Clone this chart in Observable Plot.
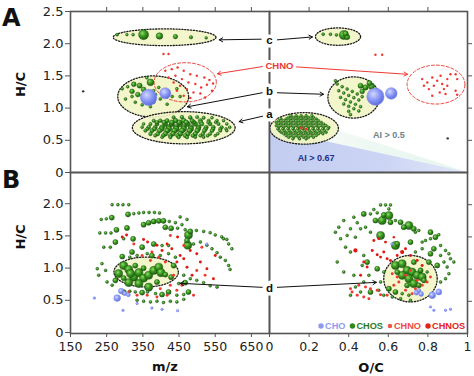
<!DOCTYPE html>
<html><head><meta charset="utf-8">
<script src="https://cdn.jsdelivr.net/npm/d3@7"></script>
<script src="https://cdn.jsdelivr.net/npm/@observablehq/plot@0.6"></script>
<style>
html,body{margin:0;padding:0;background:#fff;}
#wrap{position:relative;width:474px;height:376px;overflow:hidden;background:#fff;}
#wrap svg.panel{position:absolute;overflow:visible;}
</style></head><body>
<svg width="0" height="0" style="position:absolute;left:0;top:0"><defs>
<radialGradient id="gradCHOS" cx="0.38" cy="0.35" r="0.68"><stop offset="0" stop-color="#8fdc62"/><stop offset="0.45" stop-color="#3a9a22"/><stop offset="1" stop-color="#1d5c10"/></radialGradient>
<radialGradient id="gradCHO" cx="0.38" cy="0.35" r="0.68"><stop offset="0" stop-color="#d2d8ff"/><stop offset="0.5" stop-color="#8e9af6"/><stop offset="1" stop-color="#5a69dc"/></radialGradient>
<linearGradient id="gradAI" x1="0" y1="0" x2="1" y2="0"><stop offset="0" stop-color="#c3cdf1"/><stop offset="0.6" stop-color="#ccd5f4"/><stop offset="1" stop-color="#e2e8f9"/></linearGradient>
<linearGradient id="gradMint" x1="0" y1="0" x2="1" y2="0"><stop offset="0" stop-color="#ffffff"/><stop offset="0.5" stop-color="#eef8f3"/><stop offset="1" stop-color="#e6f6ee"/></linearGradient>
</defs></svg>
<div id="wrap"></div>
<script>
// ---------------- DATA ----------------
const categories = ["CHO", "CHOS", "CHNO", "CHNOS"];
const yTicksA = [0, 0.5, 1, 1.5, 2, 2.5];
const yTicksB = [0, 0.5, 1, 1.5, 2];
const mzTicks = [150, 250, 350, 450, 550, 650];
const ocTicks = [0, 0.2, 0.4, 0.6, 0.8, 1];
const mzDomain = [150, 700];
const ocDomain = [0, 1];
const hcDomain = [0, 2.5];

// points: [x, H/C, relative intensity]
const aLeftCHOS = [
  [279,2.14,3],[306,2.14,2.5],[323,2.14,3],[352,2.14,34],[396,2.12,15],[440,2.11,7],[483,2.10,4],[525,2.09,2.5],
  [293,1.30,3],[308,1.33,3],[320,1.26,8],[325,1.37,8],[341,1.35,9],[352,1.29,8],[371,1.40,16],[380,1.27,3],[394,1.32,3],[403,1.24,3],
  [320,1.18,3],[336,1.21,8],[398,1.14,3],[421,1.24,3],[431,1.18,3],[444,1.30,3],[361,1.47,3],[329,1.09,3],[348,1.05,3],[371,1.02,3],
  [302,1.14,3],[417,1.06,3],[380,1.09,3],[453,1.18,3],[351,1.19,8],[385,1.21,3],
  [435,0.857,4],[458,0.86,5],[481,0.855,5],[500,0.86,4],[518,0.85,4],[541,0.85,3],
  [380,0.805,4],[398,0.805,5],[417,0.805,6],[440,0.805,8],[463,0.805,8],[486,0.805,6],[509,0.805,6],[532,0.805,4],[555,0.805,3],[573,0.805,3],
  [389,0.779,5],[409,0.779,7],[430,0.779,8],[450,0.779,9],[470,0.779,8],[490,0.779,7],[510,0.779,6],[531,0.779,4],[551,0.779,3],
  [352,0.753,3],[371,0.753,4],[389,0.753,6],[412,0.753,8],[430,0.753,9],[453,0.753,10],[474,0.753,9],[495,0.753,8],[513,0.753,6],[536,0.753,5],[559,0.753,4],[582,0.753,3],
  [348,0.702,3],[366,0.702,5],[384,0.702,6],[403,0.702,9],[421,0.702,10],[442,0.702,11],[463,0.702,10],[483,0.702,9],[504,0.702,8],[525,0.702,6],[545,0.702,5],[568,0.702,4],[590,0.702,3],
  [362,0.676,4],[382,0.676,6],[402,0.676,8],[422,0.676,10],[442,0.676,11],[463,0.676,10],[483,0.676,9],[503,0.676,8],[523,0.676,6],[544,0.676,5],[564,0.676,4],[580,0.676,3],
  [357,0.65,4],[375,0.65,6],[396,0.65,8],[417,0.65,9],[437,0.65,10],[458,0.65,10],[479,0.65,9],[500,0.65,8],[520,0.65,6],[541,0.65,5],[564,0.65,4],[582,0.65,3],
  [371,0.60,5],[391,0.60,6],[412,0.60,8],[433,0.60,8],[453,0.60,9],[474,0.60,8],[495,0.60,7],[516,0.60,5],[536,0.60,4],[557,0.60,3],
  [384,0.573,4],[406,0.573,5],[426,0.573,6],[446,0.573,6],[467,0.573,6],[488,0.573,5],[509,0.573,4],[529,0.573,4],[550,0.573,3],
  [403,0.547,3],[426,0.547,4],[449,0.547,4],[472,0.547,4],[495,0.547,3],[518,0.547,3]
];
const aLeftCHO = [[366,1.166,90],[412,1.23,42]];
const aLeftCHNO = [
  [407,1.84,2],[421,1.84,2],
  [412,1.579,2],[430,1.605,2],[446,1.631,2],[463,1.579,2],[481,1.527,2],[499,1.502,2],[520,1.476,2],[534,1.435,2],
  [421,1.476,2],[440,1.502,2],[458,1.45,2],[476,1.398,2],[495,1.373,2],[511,1.321,2],[527,1.362,2],[544,1.383,2],
  [453,1.347,2],[472,1.295,2],[490,1.244,2],[509,1.228,2],[435,1.398,2],[444,1.27,2],[463,1.192,2],[481,1.156,2],[522,1.166,2],[541,1.27,2]
];
const aLeftOther = [[185,1.26,2]];

const aRightCHOS = [
  [0.271,2.147,3],[0.308,2.147,3],[0.338,2.136,3],[0.375,2.136,28],[0.392,2.105,10],[0.384,2.157,10],
  [0.342,1.373,3],[0.367,1.331,3],[0.392,1.295,3],[0.418,1.259,3],[0.443,1.218,3],[0.468,1.177,3],
  [0.35,1.27,3],[0.375,1.233,3],[0.4,1.197,3],[0.426,1.161,3],[0.451,1.125,3],
  [0.359,1.166,3],[0.384,1.13,3],[0.409,1.094,3],[0.434,1.058,3],[0.46,1.022,3],
  [0.375,1.063,3],[0.4,1.027,3],[0.426,0.991,3],[0.451,0.955,3],
  [0.46,1.347,9],[0.485,1.321,10],[0.505,1.388,9],[0.468,1.259,8],[0.515,1.337,12],[0.4,0.95,3],[0.409,0.898,3],[0.333,1.424,3],
  [0.109,0.882,2.5],[0.135,0.882,2.5],[0.16,0.882,2.5],[0.185,0.882,2.5],[0.214,0.882,2.5],
  [0.097,0.856,2.5],[0.122,0.856,2.5],[0.147,0.856,2.5],[0.172,0.856,2.5],[0.197,0.856,2.5],[0.222,0.856,2.5],
  [0.059,0.831,2.5],[0.084,0.831,2.5],[0.109,0.831,2.5],[0.135,0.831,2.5],[0.16,0.831,2.5],[0.185,0.831,2.5],[0.21,0.831,2.5],[0.236,0.831,2.5],
  [0.047,0.805,2.5],[0.072,0.805,2.5],[0.097,0.805,2.5],[0.122,0.805,2.5],[0.147,0.805,2.5],[0.172,0.805,2.5],[0.197,0.805,2.5],[0.222,0.805,2.5],[0.247,0.805,2.5],
  [0.034,0.779,2.5],[0.059,0.779,2.5],[0.084,0.779,2.5],[0.109,0.779,2.5],[0.135,0.779,2.5],[0.16,0.779,2.5],[0.185,0.779,2.5],[0.21,0.779,2.5],[0.236,0.779,2.5],[0.261,0.779,2.5],
  [0.047,0.753,2.5],[0.072,0.753,2.5],[0.097,0.753,2.5],[0.122,0.753,2.5],[0.147,0.753,2.5],[0.172,0.753,2.5],[0.197,0.753,2.5],[0.222,0.753,2.5],[0.247,0.753,2.5],[0.274,0.753,2.5],
  [0.034,0.727,2.5],[0.059,0.727,2.5],[0.084,0.727,2.5],[0.109,0.727,2.5],[0.135,0.727,2.5],[0.16,0.727,2.5],[0.185,0.727,2.5],[0.21,0.727,2.5],[0.236,0.727,2.5],[0.261,0.727,2.5],[0.286,0.727,2.5],
  [0.047,0.70,2.5],[0.072,0.70,2.5],[0.097,0.70,2.5],[0.122,0.70,2.5],[0.147,0.70,2.5],[0.172,0.70,2.5],[0.197,0.70,2.5],[0.222,0.70,2.5],[0.247,0.70,2.5],[0.274,0.70,2.5],[0.30,0.70,2.5],
  [0.042,0.676,2.5],[0.067,0.676,2.5],[0.093,0.676,2.5],[0.118,0.676,2.5],[0.143,0.676,2.5],[0.168,0.676,2.5],[0.194,0.676,2.5],[0.219,0.676,2.5],[0.244,0.676,2.5],[0.269,0.676,2.5],[0.295,0.676,2.5],
  [0.05,0.65,2.5],[0.075,0.65,2.5],[0.1,0.65,2.5],[0.126,0.65,2.5],[0.151,0.65,2.5],[0.177,0.65,2.5],[0.202,0.65,2.5],[0.227,0.65,2.5],[0.253,0.65,2.5],[0.278,0.65,2.5],
  [0.059,0.624,2.5],[0.084,0.624,2.5],[0.109,0.624,2.5],[0.135,0.624,2.5],[0.16,0.624,2.5],[0.185,0.624,2.5],[0.21,0.624,2.5],[0.236,0.624,2.5],[0.261,0.624,2.5],[0.286,0.624,2.5],
  [0.072,0.60,2.5],[0.097,0.60,2.5],[0.122,0.60,2.5],[0.147,0.60,2.5],[0.172,0.60,2.5],[0.197,0.60,2.5],[0.222,0.60,2.5],[0.248,0.60,2.5],[0.27,0.60,2.5],
  [0.084,0.573,2.5],[0.109,0.573,2.5],[0.135,0.573,2.5],[0.16,0.573,2.5],[0.185,0.573,2.5],[0.21,0.573,2.5],[0.236,0.573,2.5],
  [0.097,0.547,2.5],[0.122,0.547,2.5],[0.147,0.547,2.5],[0.172,0.547,2.5],[0.197,0.547,2.5],[0.222,0.547,2.5],
  [0.118,0.521,2.5],[0.152,0.521,2.5],[0.185,0.521,2.5]
];
const aRightCHO = [[0.535,1.177,100],[0.615,1.228,45]];
const aRightCHNO = [
  [0.535,1.827,2],[0.569,1.827,2],
  [0.771,1.45,2],[0.797,1.398,2],[0.78,1.347,2],[0.822,1.476,2],[0.83,1.347,2],[0.847,1.424,2],[0.864,1.502,2],[0.872,1.373,2],
  [0.881,1.295,2],[0.898,1.45,2],[0.898,1.347,2],[0.86,1.244,2],[0.889,1.218,2],[0.94,1.527,2],[0.948,1.45,2],[0.94,1.27,2],
  [0.948,1.208,2],[0.822,1.192,2],[0.805,1.295,2],[0.914,1.527,2],
  [0.16,0.69,3],[0.185,0.67,3]
];
const aRightOther = [[0.90,0.53,2]];

const bLeftCHOS = [
  [265,2.0,3],[281,2.0,3],[295,2.0,3],[311,2.0,3],
  [231,1.56,3],[247,1.56,3],[262,1.56,3],[235,1.77,3],[249,1.78,3],[264,1.80,9],[277,1.61,9],[306,1.64,9],
  [309,1.85,9],[325,1.86,3],[339,1.87,3],[352,1.88,3],[367,1.88,3],[382,1.88,3],[396,1.87,3],
  [352,1.69,9],[366,1.72,9],[380,1.74,9],[394,1.75,9],[407,1.75,9],[423,1.74,3],[440,1.72,3],[458,1.69,3],[453,1.81,3],[472,1.77,3],
  [412,1.65,9],[428,1.635,9],[446,1.635,3],[467,1.61,3],[481,1.585,9],[498,1.60,3],[518,1.585,3],[536,1.565,3],[550,1.53,3],[568,1.50,3],[582,1.46,3],
  [476,1.53,22],[474,1.37,22],
  [472,1.445,9],[490,1.39,3],[509,1.42,3],[527,1.37,3],[541,1.315,3],[555,1.255,3],[564,1.185,3],[578,1.135,3],[587,1.055,3],[591,0.995,3],[573,1.47,3],[587,1.39,3],[596,1.315,3],
  [274,1.42,9],[297,1.47,3],[323,1.47,9],[320,1.265,9],[348,1.34,9],[380,1.39,9],[403,1.365,3],[421,1.365,3],[242,1.34,3],[260,1.34,3],
  [293,1.195,9],[314,1.185,3],[334,1.21,3],[362,1.24,3],[375,1.21,9],[398,1.21,3],[421,1.24,3],[440,1.185,3],
  [224,1.005,3],[228,0.905,3],[237,1.085,3],[251,0.80,3],[265,0.75,3],[247,0.98,3],
  [283,0.93,22],[297,1.055,22],[311,0.995,22],[325,0.875,22],[339,0.945,22],[352,0.86,22],[366,0.905,22],[380,0.98,22],[394,1.03,22],[400,0.945,22],
  [412,0.915,9],[428,0.875,9],[311,0.79,22],[339,0.775,22],[366,0.72,22],[316,0.93,22],[297,0.86,9],[274,0.825,9],[329,1.055,9],[352,1.015,9],[389,0.80,9],
  [297,0.645,9],[314,0.655,3],[329,0.645,3],[348,0.635,9],[363,0.645,3],[385,0.62,3],[403,0.605,9],[421,0.645,9],[444,0.595,3],[463,0.605,3],[476,0.645,9],
  [334,0.515,3],[352,0.50,3],[371,0.49,3],[389,0.50,3],[407,0.48,3],[426,0.50,3],[444,0.49,3],[463,0.53,3],
  [463,0.905,3],[481,0.85,3],[499,0.825,3],[518,0.79,3],[536,0.74,3],[555,0.72,3],[467,0.79,9],[449,0.775,3],[435,1.055,9]
];
const bLeftCHNOS = [
  [293,1.50,3],[305,1.53,3],[352,1.46,3],[363,1.42,3],[389,1.37,3],[403,1.29,3],[417,1.39,3],[430,1.315,3],[446,1.50,3],[453,1.21,3],
  [444,1.11,3],[463,1.16,3],[481,1.29,3],[499,1.24,3],[509,1.11,3],[527,1.005,3],[545,0.85,3],[550,1.21,3],[472,1.03,3],[486,0.905,3]
];
const bLeftCHNO = [
  [458,0.75,3],[444,0.67,3],[490,0.595,3],[417,0.595,3],[389,0.565,3],[362,0.595,3],[334,0.595,3],[311,0.645,3],[325,1.39,3],[375,1.265,3],
  [394,1.185,3],[412,1.11,3],[371,1.135,3],[348,1.21,3],[435,0.905,3],[513,1.34,3],[426,1.52,3],[463,1.365,3],[499,0.98,3],[522,0.905,3],[426,0.75,3],[398,0.695,3]
];
const bLeftCHO = [[279,0.55,15],[290,0.66,10],[300,0.62,6],[310,0.60,5],[216,0.55,2],[295,0.36,2],[334,0.465,2],[375,0.395,2],[403,0.375,2],[446,0.355,2],[527,1.39,2]];

const bRightCHOS = [
  [0.561,1.996,3],[0.586,1.996,3],[0.611,1.996,3],[0.527,1.924,3],[0.603,1.935,3],
  [0.476,1.857,9],[0.51,1.857,3],[0.544,1.873,3],[0.577,1.842,9],[0.603,1.831,22],
  [0.569,1.754,22],[0.535,1.754,9],[0.611,1.728,9],[0.636,1.754,3],[0.662,1.728,9],[0.678,1.651,9],[0.704,1.677,22],[0.729,1.625,9],[0.737,1.573,3],[0.754,1.6,3],
  [0.426,1.806,3],[0.443,1.718,3],[0.375,1.754,3],[0.35,1.651,3],[0.409,1.625,3],[0.46,1.625,3],[0.485,1.651,3],[0.51,1.573,3],[0.392,1.522,3],[0.434,1.496,3],
  [0.561,1.522,22],[0.636,1.367,22],[0.645,1.393,9],[0.712,1.419,9],
  [0.813,1.573,9],[0.838,1.496,9],[0.855,1.532,3],[0.813,1.47,3],[0.788,1.444,3],[0.771,1.419,3],
  [0.864,1.367,3],[0.889,1.29,3],[0.906,1.238,3],[0.914,1.161,3],[0.931,1.109,3],[0.864,1.212,3],[0.881,1.109,3],[0.897,1.032,3],[0.906,0.928,3],[0.889,0.851,3],[0.864,0.799,3],
  [0.83,1.316,9],[0.813,1.238,9],[0.805,1.109,9],[0.847,1.057,9],[0.796,0.954,3],[0.771,1.316,3],[0.737,1.264,3],
  [0.333,1.573,3],[0.359,1.47,3],[0.384,1.341,3],[0.409,1.264,3],[0.476,1.212,3],[0.493,1.109,9],[0.468,1.057,3],[0.342,1.109,3],[0.375,0.954,3],[0.426,0.903,3],
  [0.476,0.799,3],[0.502,0.903,3],[0.544,1.006,9],[0.577,0.954,3],[0.561,0.799,3],[0.434,0.722,3],[0.46,0.645,3],[0.409,0.593,3],[0.51,0.645,9],
  [0.636,1.057,22],[0.67,1.083,22],[0.695,0.98,22],[0.72,0.954,22],[0.746,0.903,22],[0.771,0.877,22],[0.67,0.903,22],[0.704,0.851,22],[0.729,0.774,22],
  [0.754,0.748,9],[0.645,0.954,9],[0.729,1.109,9],[0.78,0.825,9],[0.695,0.748,9],[0.763,0.98,9],
  [0.603,0.696,9],[0.636,0.645,9],[0.67,0.619,3],[0.704,0.593,3],[0.62,0.567,3],[0.662,0.541,3],[0.712,0.516,3],[0.577,0.593,3],[0.552,0.67,3]
];
const bRightCHNOS = [
  [0.434,1.29,6],[0.519,1.29,3],[0.544,1.223,3],[0.561,1.186,3],[0.577,1.264,3],[0.594,1.161,3],[0.611,1.135,3],[0.645,1.212,3],[0.67,1.264,6],[0.712,1.212,3],
  [0.746,1.135,3],[0.771,1.057,3],[0.687,1.316,3],[0.527,1.444,3],[0.552,1.47,3],[0.586,1.419,3],[0.628,1.496,2],[0.476,1.109,3],[0.493,1.032,3],[0.46,0.903,3]
];
const bRightCHNO = [
  [0.451,0.748,3],[0.485,0.722,3],[0.51,0.696,3],[0.544,0.67,3],[0.561,0.603,3],[0.594,0.593,3],[0.628,0.748,3],[0.653,0.799,3],[0.687,0.67,3],[0.72,0.619,3],
  [0.737,0.696,3],[0.746,0.825,3],[0.771,0.748,3],[0.687,0.903,3],[0.712,0.98,3],[0.645,0.877,3],[0.62,0.928,3],[0.796,0.799,3],[0.813,0.877,3],
  [0.409,0.696,3],[0.443,0.593,3],[0.476,0.567,3],[0.502,0.541,3],[0.417,0.645,3]
];
const bRightCHO = [[0.822,0.593,15],[0.855,0.645,12],[0.742,0.634,8],[0.766,0.614,8],[0.754,0.67,5],[0.813,0.413,2],[0.83,0.361,2],[0.889,0.361,2],[0.914,0.376,2],[0.618,1.39,2]];

// annotation ellipses (data units): centre and radii
const ellipses = [
  {panel:"AL", kind:"group", cx:410, cy:2.10, rx:142, ry:0.13},
  {panel:"AL", kind:"group", cx:378.5, cy:1.18, rx:98, ry:0.32},
  {panel:"AL", kind:"group", cx:463, cy:0.695, rx:142, ry:0.25},
  {panel:"AL", kind:"chno", cx:467, cy:1.40, rx:86, ry:0.305},
  {panel:"AR", kind:"group", cx:0.346, cy:2.11, rx:0.114, ry:0.135},
  {panel:"AR", kind:"group", cx:0.425, cy:1.165, rx:0.13, ry:0.32},
  {panel:"AR", kind:"group", cx:0.175, cy:0.685, rx:0.173, ry:0.245},
  {panel:"AR", kind:"chno", cx:0.841, cy:1.365, rx:0.146, ry:0.302},
  {panel:"BL", kind:"group", cx:359, cy:0.955, rx:89, ry:0.232},
  {panel:"BR", kind:"group", cx:0.712, cy:0.851, rx:0.135, ry:0.361}
];
const arrows = [
  {panel:"AL", kind:"black", x1:677, y1:2.07, x2:561, y2:2.06},
  {panel:"AR", kind:"black", x1:0.04, y1:2.06, x2:0.217, y2:2.105},
  {panel:"AL", kind:"red", x1:685, y1:1.649, x2:556, y2:1.533},
  {panel:"AR", kind:"red", x1:0.131, y1:1.641, x2:0.697, y2:1.525},
  {panel:"AL", kind:"black", x1:680, y1:1.238, x2:473, y2:1.02},
  {panel:"AR", kind:"black", x1:0.04, y1:1.238, x2:0.273, y2:1.215},
  {panel:"AL", kind:"black", x1:682, y1:0.875, x2:616, y2:0.79},
  {panel:"BL", kind:"black", x1:680, y1:0.717, x2:453, y2:0.779},
  {panel:"BR", kind:"black", x1:0.04, y1:0.717, x2:0.54, y2:0.794}
];
const groupLabels = [
  {panel:"AR", kind:"black", text:"c", x:0, y:2.05},
  {panel:"AR", kind:"red", text:"CHNO", x:0.05, y:1.656},
  {panel:"AR", kind:"black", text:"b", x:0, y:1.254},
  {panel:"AR", kind:"black", text:"a", x:0, y:0.898},
  {panel:"BR", kind:"black", text:"d", x:0, y:0.70}
];
// aromaticity-index boundary lines (O/C, H/C)
const aiBand = [{oc:0, lo:0.67, hi:1.0}, {oc:1, lo:0, hi:0}];
const aiHigh = [{oc:0, hc:0.67}, {oc:1, hc:0}];
const aiLabels = [{text:"AI > 0.67", oc:0.236, hc:0.227, kind:"high"}, {text:"AI > 0.5", oc:0.603, hc:0.573, kind:"mid"}];

// ---------------- STYLE ----------------
const colCHOS = "url(#gradCHOS)", colCHO = "url(#gradCHO)";
const colCHNO = "#ee3a30", colCHNOS = "#e01a12";
const legendColors = {CHO:"#8e9bf2", CHOS:"#2b7a1c", CHNO:"#ef4a40", CHNOS:"#e3241c"};
const legendDot = {CHO:"#8e9bf2", CHOS:"#2f8a1e", CHNO:"#f0574c", CHNOS:"#e3241c"};
const FONT = "DejaVu Sans, sans-serif";
const ARIAL = "Liberation Sans, Arial, sans-serif";
const fmtHC = d => d === 0 ? "0" : d.toFixed(1);
const fmtOC = d => (d === 0 || d === 1) ? String(d) : d.toFixed(1);

const wrap = document.getElementById("wrap");

function ellipseMarks(panel) {
  const out = [];
  for (const e of ellipses.filter(e => e.panel === panel)) {
    const pts = d3.range(0, 96).map(i => {
      const t = i / 96 * 2 * Math.PI;
      return [e.cx + e.rx * Math.cos(t), e.cy + e.ry * Math.sin(t)];
    });
    if (e.kind === "group") {
      out.push(Plot.line(pts, {x: d => d[0], y: d => d[1], curve: "linear-closed", fill: "#f2f5c4", fillOpacity: 0.9,
        stroke: "#1a1a1a", strokeWidth: 1.3, strokeDasharray: "1.2,1.7"}));
    } else {
      out.push(Plot.line(pts, {x: d => d[0], y: d => d[1], curve: "linear-closed", fill: "none",
        stroke: "#e8453c", strokeWidth: 1, strokeDasharray: "3,2"}));
    }
  }
  return out;
}
function dotMarks(chos, chnos, chno, cho, other) {
  const P = {x: d => d[0], y: d => d[1], r: d => d[2]};
  const m = [];
  m.push(Plot.dot(chos, {...P, fill: colCHOS, stroke: "#174a0b", strokeWidth: 0.4}));
  if (chnos) m.push(Plot.dot(chnos, {...P, fill: colCHNOS}));
  if (chno) m.push(Plot.dot(chno, {...P, fill: colCHNO}));
  if (other) m.push(Plot.dot(other, {...P, fill: "#333"}));
  if (cho) m.push(Plot.dot(cho, {...P, fill: colCHO, stroke: "#7d8cf0", strokeWidth: 0.6}));
  return m;
}
function arrowMarks(panel) {
  const a = arrows.filter(d => d.panel === panel);
  return [
    Plot.arrow(a.filter(d => d.kind === "black"), {x1:"x1", y1:"y1", x2:"x2", y2:"y2", stroke:"#111", strokeWidth:1, headLength:6}),
    Plot.arrow(a.filter(d => d.kind === "red"), {x1:"x1", y1:"y1", x2:"x2", y2:"y2", stroke:"#ec3b33", strokeWidth:1, headLength:6})
  ];
}
function labelMarks(panel) {
  const l = groupLabels.filter(d => d.panel === panel);
  return [
    Plot.text(l.filter(d => d.kind === "black"), {x:"x", y:"y", text:"text", fontSize:11.5, fontWeight:"bold", fontFamily: ARIAL,
      fill:"#111", stroke:"white", strokeWidth:7, paintOrder:"stroke", strokeLinejoin:"round"}),
    Plot.text(l.filter(d => d.kind === "red"), {x:"x", y:"y", text:"text", fontSize:9.5, fontWeight:"bold", fontFamily: ARIAL,
      fill:"#ec3b33", stroke:"white", strokeWidth:6, paintOrder:"stroke", strokeLinejoin:"round"})
  ];
}

function makePanel(o) {
  const svg = Plot.plot({
    width: o.width, height: o.height,
    marginLeft: o.ml, marginRight: o.mr, marginTop: o.mt, marginBottom: o.mb,
    style: {overflow: "visible", fontFamily: FONT, color: "#222", background: "transparent"},
    x: {domain: o.xDomain},
    y: {domain: hcDomain},
    r: {type: "sqrt", domain: [0, 100], range: [0, 8.6]},
    marks: o.marks
  });
  svg.classList.add("panel");
  svg.style.left = o.left + "px";
  svg.style.top = o.top + "px";
  wrap.append(svg);
}

const frame = Plot.frame({stroke: "#555", strokeWidth: 1.6});
const axisOpts = {fontSize: 13, label: null, stroke: "#555"};

// A, left (m/z)
makePanel({left:0, top:0, width:269, height:172, ml:70, mr:0, mt:11, mb:0, xDomain: mzDomain, marks: [
  ...ellipseMarks("AL"),
  ...dotMarks(aLeftCHOS, null, aLeftCHNO, aLeftCHO, aLeftOther),
  ...arrowMarks("AL"),
  frame,
  Plot.axisY({...axisOpts, ticks: yTicksA, anchor: "left", tickSize: 5, tickPadding: 2, tickFormat: fmtHC}),
  Plot.axisX({...axisOpts, ticks: mzTicks.slice(1), anchor: "top", tickSize: 5, tickFormat: () => ""})
]});
// A, right (O/C)
makePanel({left:269, top:0, width:205, height:172, ml:0, mr:7, mt:11, mb:0, xDomain: ocDomain, marks: [
  Plot.areaY(aiBand, {x: "oc", y1: "lo", y2: "hi", fill: "url(#gradMint)"}),
  Plot.areaY(aiHigh, {x: "oc", y: "hc", fill: "url(#gradAI)"}),
  ...ellipseMarks("AR"),
  ...dotMarks(aRightCHOS, null, aRightCHNO, aRightCHO, aRightOther),
  Plot.text(aiLabels.filter(d => d.kind === "high"), {x:"oc", y:"hc", text:"text", fontSize:9, fontWeight:"bold", fontFamily: ARIAL, fill:"#22308a"}),
  Plot.text(aiLabels.filter(d => d.kind === "mid"), {x:"oc", y:"hc", text:"text", fontSize:9, fontWeight:"bold", fontFamily: ARIAL, fill:"#6e8389"}),
  ...arrowMarks("AR"),
  frame,
  Plot.axisY({...axisOpts, ticks: yTicksA.slice(1, 5), anchor: "right", tickSize: 4, tickFormat: () => ""}),
  Plot.axisX({...axisOpts, ticks: ocTicks.slice(1, 5), anchor: "top", tickSize: 5, tickFormat: () => ""}),
  ...labelMarks("AR")
]});
// B, left
makePanel({left:0, top:172, width:269, height:204, ml:70, mr:0, mt:0, mb:43, xDomain: mzDomain, marks: [
  ...ellipseMarks("BL"),
  ...dotMarks(bLeftCHOS, bLeftCHNOS, bLeftCHNO, bLeftCHO, null),
  ...arrowMarks("BL"),
  frame,
  Plot.axisY({...axisOpts, ticks: yTicksB, anchor: "left", tickSize: 5, tickPadding: 2, tickFormat: fmtHC, dy: -1}),
  Plot.axisX({...axisOpts, fontSize: 12.5, ticks: mzTicks, anchor: "bottom", tickSize: 4, tickPadding: 5})
]});
// B, right
makePanel({left:269, top:172, width:205, height:204, ml:0, mr:7, mt:0, mb:43, xDomain: ocDomain, marks: [
  ...ellipseMarks("BR"),
  ...dotMarks(bRightCHOS, bRightCHNOS, bRightCHNO, bRightCHO, null),
  ...arrowMarks("BR"),
  frame,
  Plot.axisY({...axisOpts, ticks: yTicksB.slice(1), anchor: "right", tickSize: 4, tickFormat: () => ""}),
  Plot.axisX({...axisOpts, fontSize: 12.5, ticks: ocTicks, anchor: "bottom", tickSize: 4, tickPadding: 5, tickFormat: fmtOC}),
  ...labelMarks("BR")
]});

// ---------- titles, panel letters, legend ----------
const ov = d3.create("svg").attr("width", 474).attr("height", 376)
  .style("position", "absolute").style("left", "0px").style("top", "0px").style("overflow", "visible");
wrap.append(ov.node());
const T = (x, y, s, size, extra = {}) => {
  const t = ov.append("text").attr("x", x).attr("y", y).text(s)
    .attr("font-family", extra.family || FONT).attr("font-weight", "bold").attr("font-size", size).attr("fill", extra.fill || "#111");
  if (extra.anchor) t.attr("text-anchor", extra.anchor);
  if (extra.rotate) t.attr("transform", `rotate(-90 ${x} ${y})`).attr("dominant-baseline", "central");
  return t;
};
T(2, 26, "A", 24);
T(2, 188, "B", 24);
T(20, 84.5, "H/C", 13, {anchor: "middle", rotate: true});
T(20, 237, "H/C", 13, {anchor: "middle", rotate: true});
T(165, 371, "m/z", 13, {anchor: "middle"});
T(371, 372, "O/C", 13, {anchor: "middle"});

let lx = 318.5;
for (const c of categories) {
  ov.append("circle").attr("cx", lx + 2.5).attr("cy", 326).attr("r", c === "CHNO" ? 2.3 : 2.7).attr("fill", legendDot[c]);
  const t = ov.append("text").attr("x", lx + 6.5).attr("y", 329.2).text(c)
    .attr("font-family", ARIAL).attr("font-weight", "bold").attr("font-size", 9.2).attr("fill", legendColors[c]);
  lx += 6.5 + t.node().getComputedTextLength() + 4.5;
}
</script>
</body></html>
